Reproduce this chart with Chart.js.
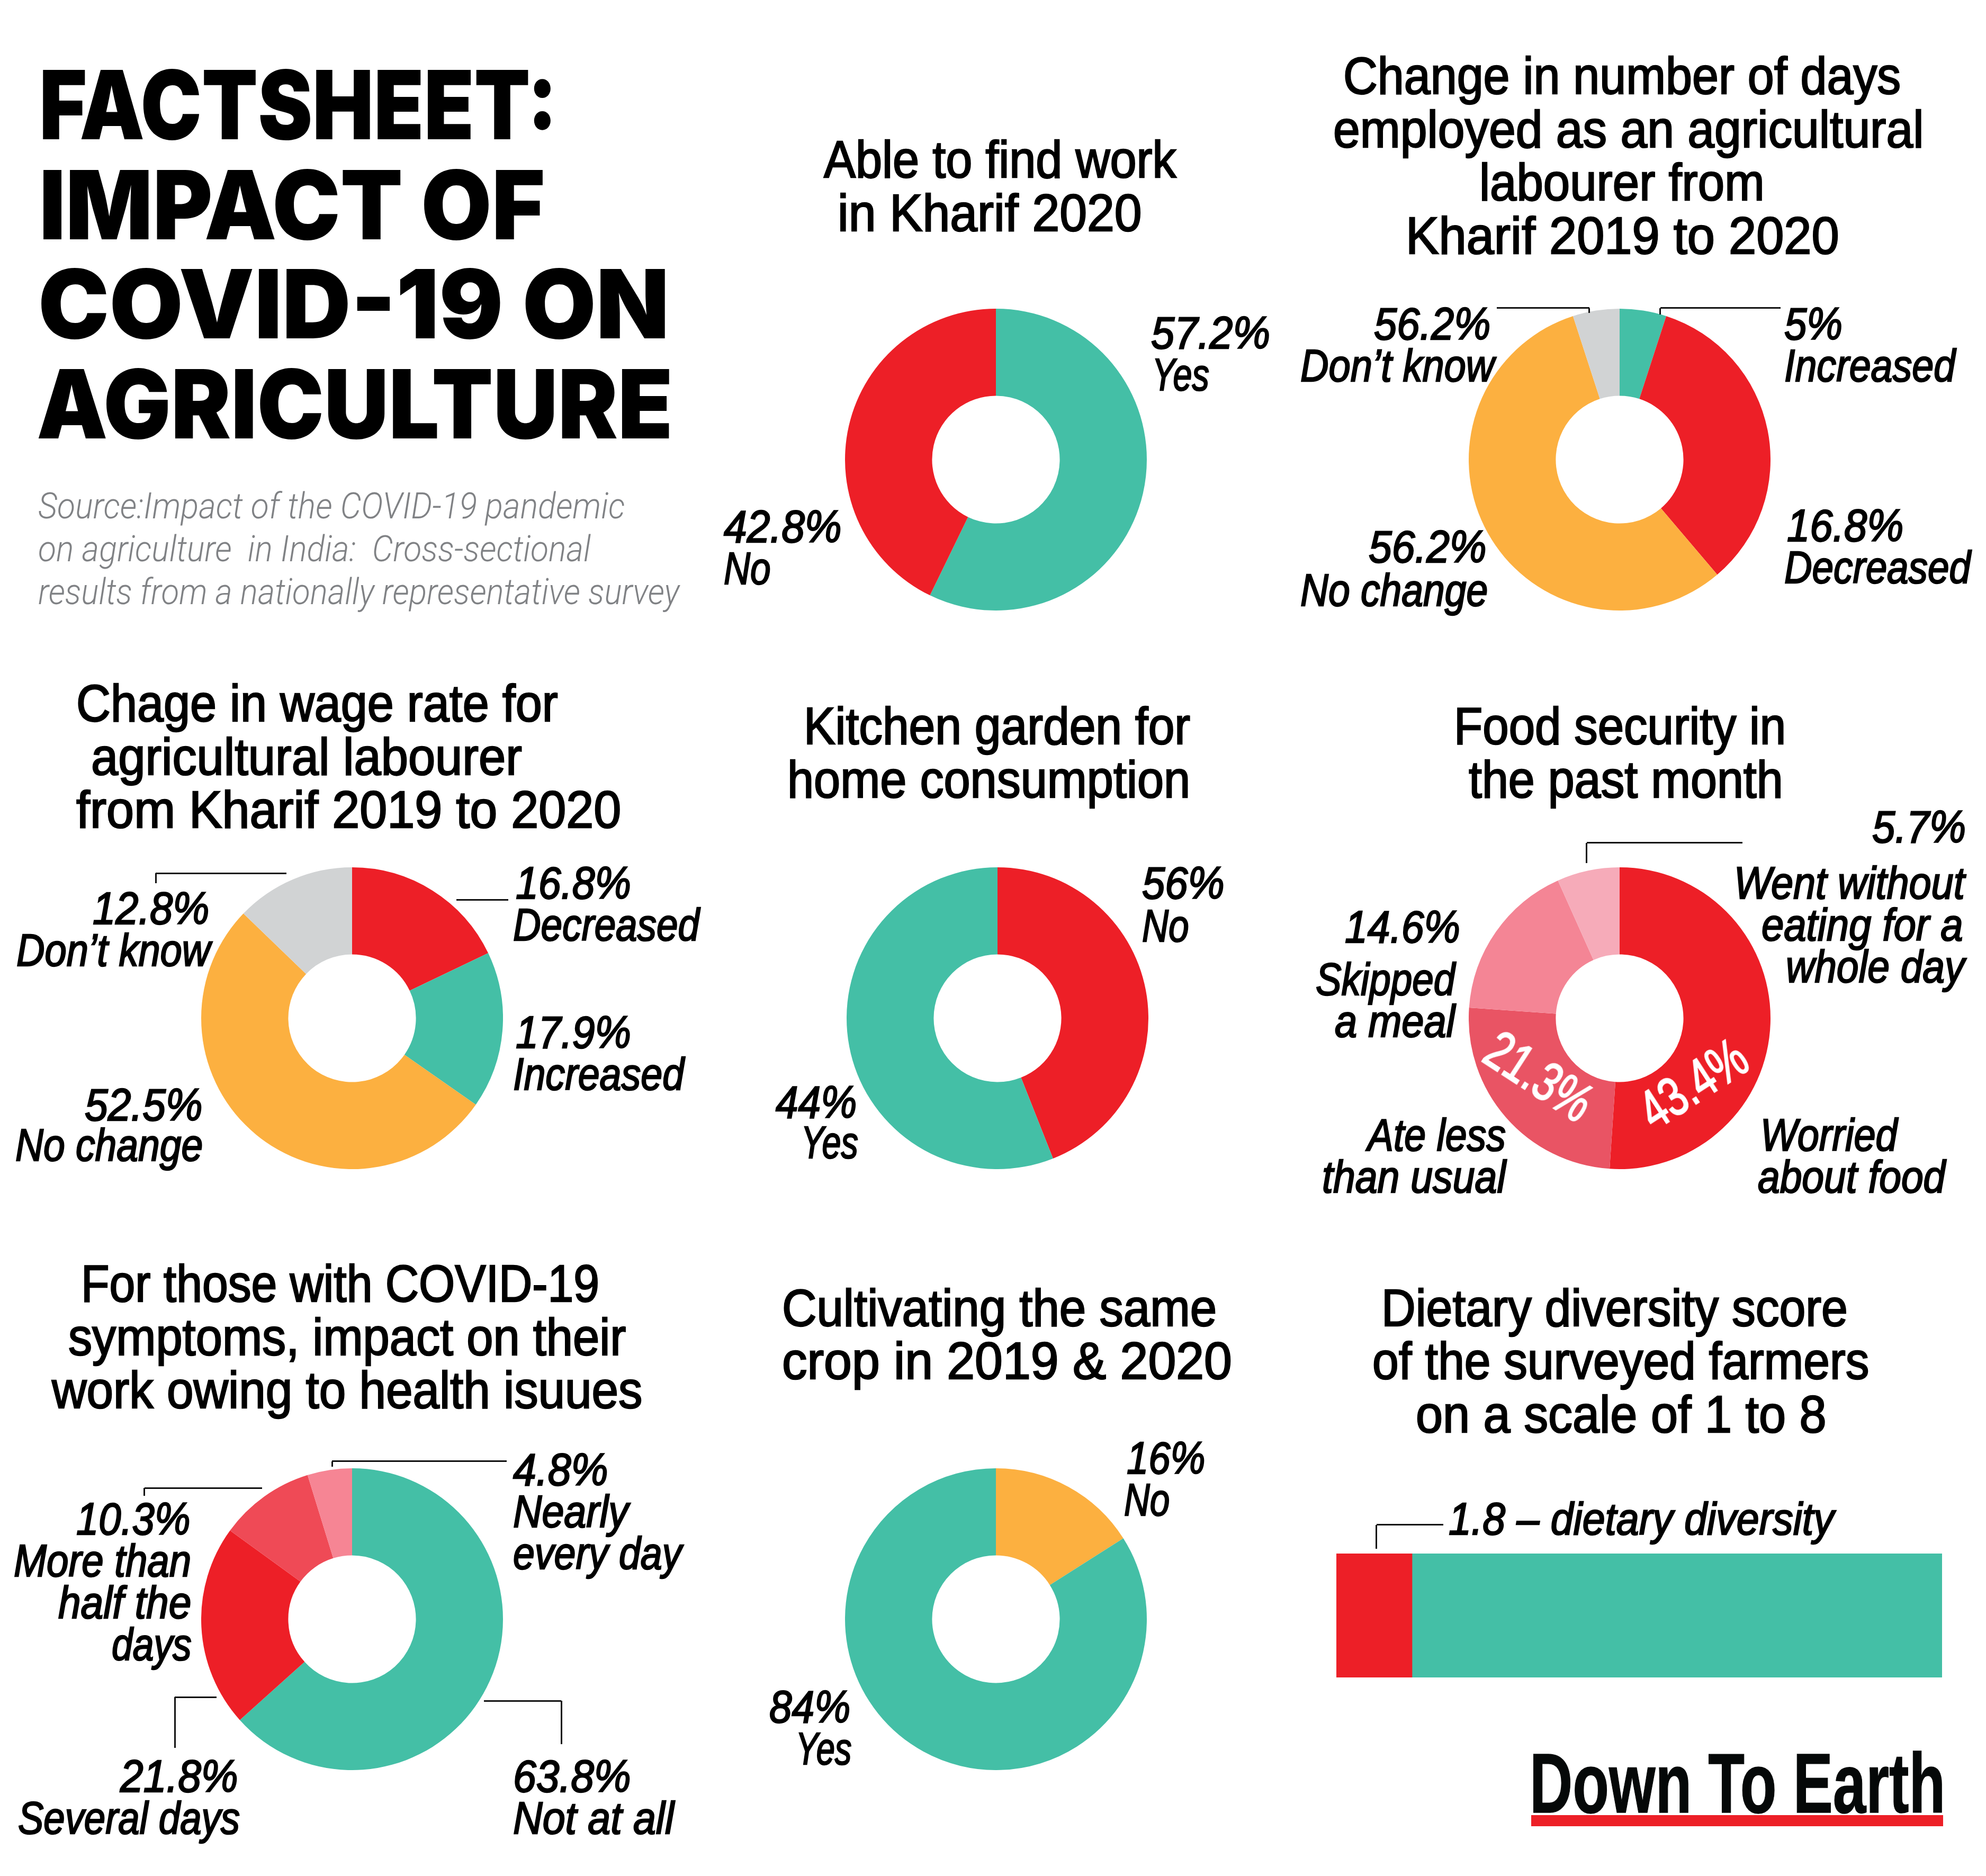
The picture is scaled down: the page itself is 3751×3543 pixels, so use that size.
<!DOCTYPE html>
<html>
<head>
<meta charset="utf-8">
<title>Factsheet: Impact of COVID-19 on agriculture</title>
<script src="https://cdn.jsdelivr.net/npm/chart.js@4"></script>
<style>
html, body { margin: 0; padding: 0; background: #fff; }
#page { position: relative; width: 3751px; height: 3543px; overflow: hidden; background: #fff; }
#page canvas { position: absolute; }
.t { position: absolute; white-space: pre; line-height: 0; transform-origin: 0 0; }
.rule { position: absolute; background: #111; }
</style>
</head>
<body>
<div id="page"></div>
<script>
// values
const workLabels = ['Yes', 'No'];
const workValues = [57.2, 42.8];

const daysLabels = ['Increased', 'Decreased', 'No change', "Don't know"];
const daysValues = [5, 33.8, 56.2, 5];

// slices as drawn in the picture, the printed labels sit on the other slice
const wageLabels = ['Decreased', 'Increased', 'No change', "Don't know"];
const wageValues = [17.9, 16.8, 52.5, 12.8];

const gardenLabels = ['No', 'Yes'];
const gardenValues = [44, 56];

const foodLabels = ['Worried about food', 'Ate less than usual', 'Skipped a meal', 'Went without eating for a whole day'];
const foodValues = [43.4, 21.3, 14.6, 5.7];

const healthLabels = ['Not at all', 'Several days', 'More than half the days', 'Nearly every day'];
const healthValues = [63.8, 21.8, 10.3, 4.8];

const cropLabels = ['No', 'Yes'];
const cropValues = [16, 84];

const dietLabels = ['Dietary diversity', 'Rest of the scale'];
const dietValues = [1, 7];
const dietScaleMax = 8;

const TEAL = '#44bfa6', RED = '#ed1f27', ORANGE = '#fcb040', GREY = '#d1d3d4';

const U = 3751 / 1567; // layout below is in 1567-wide units
const page = document.getElementById('page');
const measure = document.createElement('canvas').getContext('2d');

const TITLE = { font: '400 98px "Liberation Sans Narrow", "Liberation Sans"', color: '#000', stroke: 2.5 };
const LABEL = { font: 'italic 400 85px "Liberation Sans Narrow", "Liberation Sans"', color: '#000', stroke: 2.5 };
const HEAD = { font: '900 180px Inter, "Liberation Sans"', color: '#000', stroke: 0 };
const SOURCE = { font: 'italic 300 69px Roboto, "Liberation Sans"', color: '#808285', stroke: 0 };
const LOGO = { font: '700 160px "Liberation Sans Narrow", "Liberation Sans"', color: '#050808', stroke: 1.5 };
const INSIDE = { font: '400 104px "Liberation Sans Narrow", "Liberation Sans"', color: '#fff', stroke: 2.5 };

// one line of text squeezed to run from x1 to x2 on baseline y
function line(text, x1, x2, y, style, angle) {
    measure.font = style.font;
    const m = measure.measureText(text);
    const sx = (x2 - x1) * U / m.width;
    const el = document.createElement('span');
    el.className = 't';
    el.textContent = text;
    el.style.font = style.font;
    el.style.lineHeight = '0';
    el.style.color = style.color;
    if (style.stroke) el.style.webkitTextStroke = style.stroke + 'px ' + style.color;
    el.style.left = (x1 * U) + 'px';
    el.style.top = (y * U - (m.fontBoundingBoxAscent - m.fontBoundingBoxDescent) / 2) + 'px';
    el.style.transform = (angle ? 'rotate(' + angle + 'deg) ' : '') + 'scaleX(' + sx + ')';
    page.appendChild(el);
}

// leader: polyline made of axis-aligned pieces
function hline(x1, x2, y) {
    rect(x1 * U, y * U - 1.5, (x2 - x1) * U, 3, '#111');
}
function vline(x, y1, y2) {
    rect(x * U - 1.5, y1 * U, 3, (y2 - y1) * U, '#111');
}
function rect(x, y, w, h, color) {
    const el = document.createElement('div');
    el.className = 'rule';
    el.style.cssText = 'left:' + x + 'px;top:' + y + 'px;width:' + w + 'px;height:' + h + 'px;background:' + color;
    page.appendChild(el);
}

function donut(cx, cy, labels, values, colors) {
    const R = 285;
    const canvas = document.createElement('canvas');
    canvas.width = R * 2;
    canvas.height = R * 2;
    canvas.style.left = (cx * U - R) + 'px';
    canvas.style.top = (cy * U - R) + 'px';
    canvas.style.width = R * 2 + 'px';
    canvas.style.height = R * 2 + 'px';
    page.appendChild(canvas);
    new Chart(canvas.getContext('2d'), {
        type: 'doughnut',
        data: { labels: labels, datasets: [{ data: values, backgroundColor: colors, borderWidth: 0 }] },
        options: {
            responsive: false,
            animation: false,
            cutout: '42.3%',
            layout: { padding: 0 },
            plugins: { legend: { display: false }, tooltip: { enabled: false } }
        }
    });
}

function stackedBar(x1, x2, y1, y2) {
    const canvas = document.createElement('canvas');
    const w = Math.round(x2 - x1), h = Math.round(y2 - y1);
    canvas.width = w;
    canvas.height = h;
    canvas.style.left = x1 + 'px';
    canvas.style.top = y1 + 'px';
    canvas.style.width = w + 'px';
    canvas.style.height = h + 'px';
    page.appendChild(canvas);
    new Chart(canvas.getContext('2d'), {
        type: 'bar',
        data: {
            labels: ['Score'],
            datasets: [
                { label: dietLabels[0], data: [dietValues[0]], backgroundColor: RED, borderWidth: 0 },
                { label: dietLabels[1], data: [dietValues[1]], backgroundColor: TEAL, borderWidth: 0 }
            ]
        },
        options: {
            indexAxis: 'y',
            responsive: false,
            animation: false,
            barPercentage: 1,
            categoryPercentage: 1,
            layout: { padding: 0 },
            scales: {
                x: { display: false, stacked: true, min: 0, max: dietScaleMax },
                y: { display: false, stacked: true }
            },
            plugins: { legend: { display: false }, tooltip: { enabled: false } }
        }
    });
}

// charts
donut(786, 362.5, workLabels, workValues, [TEAL, RED]);
donut(1278, 362.5, daysLabels, daysValues, [TEAL, RED, ORANGE, GREY]);
donut(278, 803.5, wageLabels, wageValues, [RED, TEAL, ORANGE, GREY]);
donut(787, 803.5, gardenLabels, gardenValues, [RED, TEAL]);
donut(1278, 803.5, foodLabels, foodValues, [RED, '#e95464', '#f48595', '#f6abb9']);
donut(278, 1277.5, healthLabels, healthValues, [TEAL, RED, '#ef4a56', '#f68594']);
donut(786, 1277.5, cropLabels, cropValues, [ORANGE, TEAL]);
stackedBar(2524, 3668, 2934, 3168);

// heading
[['FACTSHEET:', 31, 440, 110], ['IMPACT OF', 31, 430, 189], ['COVID-19 ON', 30, 528, 267], ['AGRICULTURE', 29, 531, 346]]
    .forEach(r => line(r[0], r[1], r[2], r[3], HEAD));
[['Source:Impact of the COVID-19 pandemic', 30, 493, 409],
 ['on agriculture  in India:  Cross-sectional', 30, 466, 443],
 ['results from a nationally representative survey', 30, 536, 477]]
    .forEach(r => line(r[0], r[1], r[2], r[3], SOURCE));

// chart titles
[['Able to find work', 650, 928, 140], ['in Kharif 2020', 661, 901, 182],
 ['Change in number of days', 1060, 1500, 74], ['employed as an agricultural', 1052, 1518, 116],
 ['labourer from', 1167, 1392, 158], ['Kharif 2019 to 2020', 1109, 1451, 200],
 ['Chage in wage rate for', 60, 440, 569], ['agricultural labourer', 72, 412, 611],
 ['from Kharif 2019 to 2020', 60, 490, 653],
 ['Kitchen garden for', 634, 939, 587], ['home consumption', 621, 939, 629],
 ['Food security in', 1147, 1409, 587], ['the past month', 1159, 1407, 629],
 ['For those with COVID-19', 64, 473, 1027], ['symptoms, impact on their', 54, 494, 1069],
 ['work owing to health isuues', 41, 507, 1111],
 ['Cultivating the same', 617, 960, 1046], ['crop in 2019 & 2020', 617, 972, 1088],
 ['Dietary diversity score', 1090, 1458, 1046], ['of the surveyed farmers', 1083, 1475, 1088],
 ['on a scale of 1 to 8', 1117, 1441, 1130]]
    .forEach(r => line(r[0], r[1], r[2], r[3], TITLE));

// slice labels
[['57.2%', 908, 1002, 275], ['Yes', 909, 954, 308], ['42.8%', 571, 664, 428], ['No', 571, 608, 461],
 ['56.2%', 1084, 1176, 268], ['Don\u2019t know', 1026, 1179, 301], ['5%', 1408, 1454, 268], ['Increased', 1408, 1543, 301],
 ['16.8%', 1410, 1502, 427], ['Decreased', 1408, 1555, 460], ['56.2%', 1080, 1173, 444], ['No change', 1026, 1174, 478],
 ['16.8%', 407, 498, 709], ['Decreased', 405, 552, 742], ['17.9%', 407, 498, 827], ['Increased', 405, 540, 860],
 ['12.8%', 73, 165, 729], ['Don\u2019t know', 13, 166, 762], ['52.5%', 67, 160, 884], ['No change', 12, 160, 916],
 ['56%', 901, 966, 709], ['No', 901, 938, 743], ['44%', 612, 676, 882], ['Yes', 632, 677, 914],
 ['5.7%', 1477, 1551, 665], ['Went without', 1368, 1550, 709], ['eating for a', 1390, 1549, 742], ['whole day', 1409, 1550, 775],
 ['14.6%', 1061, 1152, 744], ['Skipped', 1038, 1148, 785], ['a meal', 1053, 1148, 818],
 ['Ate less', 1079, 1188, 908], ['than usual', 1043, 1188, 941], ['Worried', 1389, 1497, 908], ['about food', 1387, 1535, 941],
 ['4.8%', 405, 480, 1172], ['Nearly', 405, 496, 1205], ['every day', 405, 538, 1238],
 ['10.3%', 60, 150, 1211], ['More than', 11, 151, 1244], ['half the', 46, 151, 1277], ['days', 88, 151, 1310],
 ['21.8%', 95, 188, 1414], ['Several days', 14, 189, 1447], ['63.8%', 405, 498, 1414], ['Not at all', 405, 532, 1447],
 ['16%', 889, 951, 1163], ['No', 887, 923, 1196], ['84%', 607, 671, 1359], ['Yes', 628, 672, 1392],
 ['1.8 \u2013 dietary diversity', 1143, 1447, 1211]]
    .forEach(r => line(r[0], r[1], r[2], r[3], LABEL));

line('43.4%', 1297, 1389, 895, INSIDE, -33);
line('21.3%', 1176, 1268, 839, INSIDE, 33);

// leader lines
hline(1181, 1254, 243); vline(1254, 243, 247);
hline(1310, 1405, 243); vline(1310, 243, 248);
hline(360, 401, 710);
hline(123, 226, 689); vline(123, 689, 697);
hline(1252, 1375, 665); vline(1252, 665, 681);
hline(262, 400, 1153); vline(262, 1153, 1157);
hline(114, 207, 1174); vline(114, 1174, 1180);
hline(138, 171, 1339); vline(138, 1339, 1379);
hline(382, 443, 1342); vline(443, 1342, 1376);
hline(1086, 1139, 1203); vline(1086, 1203, 1222);

// masthead
line('Down To Earth', 1207, 1535, 1430, LOGO);
rect(1208 * U, 1432 * U, 325 * U, 9 * U, RED);
</script>
</body>
</html>
